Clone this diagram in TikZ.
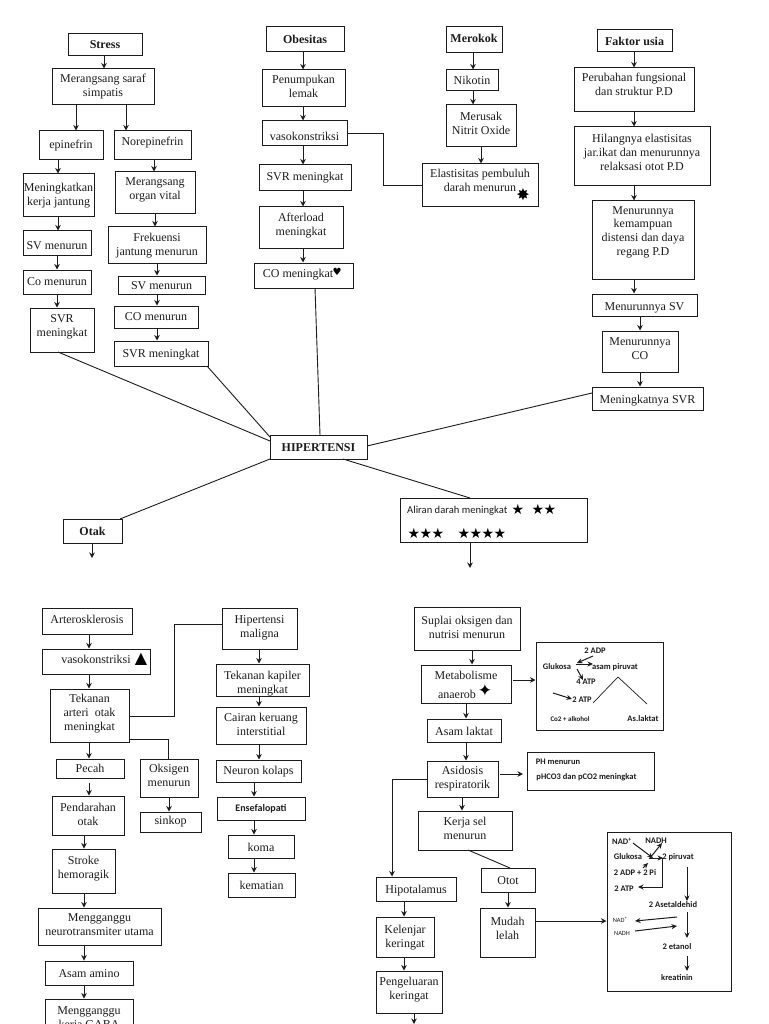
\documentclass[tikz,border=0pt]{standalone}
\usepackage{fontspec}
\setmainfont{Liberation Serif}
\newfontfamily\symf{DejaVu Sans}
\newfontfamily\calf{Carlito}
\usetikzlibrary{arrows.meta,calc}
\definecolor{ink}{HTML}{1C1C1C}
\tikzset{
  bxs/.style={draw=ink,line width=1pt,inner sep=0pt,fill=white,text=ink,align=center},
  arr/.style={draw=ink,line width=1pt,-{Stealth[length=5.5pt,width=5.5pt]}},
  lin/.style={draw=ink,line width=.9pt},
  thin arr/.style={draw=ink,line width=1pt,-{Stealth[length=5.5pt,width=5pt]}},
  tiny/.style={inner sep=0pt,text=ink,font=\calf\bfseries\fontsize{8.5}{9}\selectfont},
  sym/.style={inner sep=0pt,text=black,font=\symf\fontsize{11}{11}\selectfont}
}
% [text offset up]{name}{x1}{y1}{x2}{y2}{text}
\newcommand\bx[6][0]{%
  \pgfmathsetmacro\cx{(#3+#5)/2}\pgfmathsetmacro\cy{(#4+#6)/2}%
  \pgfmathsetmacro\ww{#5-#3}\pgfmathsetmacro\hh{#6-#4}%
  \pgfmathsetmacro\ra{#1-5}%
  \node[bxs,minimum width=\ww pt,minimum height=\hh pt] (#2) at (\cx,\cy)
   {\fontsize{12}{13.8}\selectfont\raisebox{\ra pt}[0pt][0pt]{\begin{tabular}{@{}c@{}}\BOXTXT\end{tabular}}};}
\newcommand\BOXTXT{}
\newcommand\B[7][0]{\renewcommand\BOXTXT{#7}\bx[#1]{#2}{#3}{#4}{#5}{#6}}
\newcommand\ar[4][]{\coordinate (tx) at (#4,0); \draw[arr,#1] (#2.south -| tx) -- (#3.north -| tx);}
\newcounter{fc}
\newcommand\fa[5][thin arr]{\stepcounter{fc}\coordinate (fa\thefc) at (#2,#3); \coordinate (fb\thefc) at (#4,#5); \draw[#1] (fa\thefc) -- (fb\thefc);}
\newcommand\T[4][tiny]{\node[#1] (#2) at (#3) {#4};}
\begin{document}
\begin{tikzpicture}[x=1pt,y=-1pt]
\useasboundingbox (0,0) rectangle (768,1024);
\fill[white] (0,0) rectangle (768,1024);

% ---- top: stress
\B[1]{stress}{68}{34}{142}{56}{\bfseries Stress}
\B[2]{simp}{52}{69}{154}{105}{Merangsang saraf\\simpatis}
\B[2]{epi}{39}{131}{103}{160}{epinefrin}
\B[5]{nor}{114}{131}{191}{160}{Norepinefrin}
\B[2]{kerja}{23}{174}{94}{217}{Meningkatkan\\kerja jantung}
\B[5]{organ}{115}{172}{195}{214}{Merangsang\\organ vital}
\B[-2]{sv1}{23}{231}{91}{255}{SV menurun}
\B[1]{frek}{108}{227}{206}{263}{Frekuensi\\jantung menurun}
\B{sv2}{118}{276}{205}{294}{SV menurun}
\B[1]{co1}{23}{270}{91}{294}{Co menurun}
\B[1]{co2}{114}{306}{198}{328}{CO menurun}
\B[5]{svr1}{30}{308}{94}{352}{SVR\\meningkat}
\B[1]{svr2}{114}{341}{208}{366}{SVR meningkat}
\ar{stress}{simp}{104}
\ar{simp}{epi}{76}
\ar{simp}{nor}{126}
\ar{epi}{kerja}{58}
\ar{nor}{organ}{154}
\ar{kerja}{sv1}{58}
\ar{organ}{frek}{155}
\ar{sv1}{co1}{57}
\ar{frek}{sv2}{157}
\ar{co1}{svr1}{57}
\ar{sv2}{co2}{157}
\ar{co2}{svr2}{157}

% ---- obesitas
\B[1]{obes}{266}{27}{344}{52}{\bfseries Obesitas}
\B[3]{pen}{262}{70}{345}{107}{Penumpukan\\lemak}
\B[-2]{vaso}{262}{121}{347}{146}{vasokonstriksi}
\B[2]{svr3}{259}{165}{351}{191}{SVR meningkat}
\B[4]{after}{259}{207}{343}{248}{Afterload\\meningkat}
\B[3]{coup}{254}{263}{353}{288}{CO meningkat\kern11pt}
\node[sym,font=\symf\fontsize{10}{10}\selectfont] (hrt) at (337,272) {♥};
\ar{obes}{pen}{303}
\ar{pen}{vaso}{303}
\ar{vaso}{svr3}{303}
\ar{svr3}{after}{303}
\ar{after}{coup}{303}

% ---- merokok
\B[2]{mero}{446}{27}{502}{53}{\bfseries Merokok}
\B[1]{niko}{446}{70}{498}{91}{Nikotin}
\B[3]{nitr}{446}{105}{516}{147}{Merusak\\Nitrit Oxide}
\B[6]{elas}{422}{164}{538}{207}{Elastisitas pembuluh\\darah menurun}
\node[sym,font=\symf\fontsize{16}{16}\selectfont] (burst) at (523,195) {✸};
\ar{mero}{niko}{473}
\ar{niko}{nitr}{473}
\ar{nitr}{elas}{481}
\draw[lin] (vaso.east |- 0,133) -- (383,133) -- (383,185) -- (elas.west |- 0,185);

% ---- usia
\B{usia}{597}{30}{672}{52}{\bfseries Faktor usia}
\B[6]{peru}{574}{68}{694}{112}{Perubahan fungsional\\dan struktur P.D}
\B[5]{hila}{574}{127}{710}{186}{Hilangnya elastisitas\\jar.ikat dan menurunnya\\relaksasi otot P.D}
\B[10]{kema}{592}{201}{694}{279}{Menurunnya\\kemampuan\\distensi dan daya\\regang P.D}
\B[-1]{msv}{592}{294}{697}{316}{Menurunnya SV}
\B[4]{mco}{602}{331}{678}{372}{Menurunnya\\CO}
\B{msvr}{592}{387}{703}{410}{Meningkatnya SVR}
\ar{usia}{peru}{634}
\ar{peru}{hila}{634}
\ar{hila}{kema}{634}
\ar{kema}{msv}{634}
\ar{msv}{mco}{640}
\ar{mco}{msvr}{640}

% ---- centre
\B{hip}{270}{435}{367}{459}{\bfseries HIPERTENSI}
\B{otak}{63}{519}{122}{543}{\bfseries Otak}
\node[bxs,minimum width=187pt,minimum height=44pt] (alir) at (493.5,520) {};
\node[inner sep=0pt,anchor=west,text=ink,font=\calf\fontsize{10.6}{12}\selectfont] (alirt) at (407,511) {Aliran darah meningkat};
\foreach \n/\x/\y in {a/518/509,b/538/509,c/550/509,d/414/533,e/426/533,f/438/533,g/464/533,h/476/533,i/488/533,j/500/533}{
  \node[sym,font=\symf\fontsize{14}{14}\selectfont] (st\n) at (\x,\y) {★};}
\coordinate (h1) at (270,441); \coordinate (h2) at (270,437); \coordinate (h3) at (320,435);
\coordinate (h4) at (367,446); \coordinate (h5) at (270,459); \coordinate (h6) at (343,459);
\coordinate (e1) at (58,352); \coordinate (e2) at (207,366); \coordinate (e3) at (315,288);
\coordinate (e4) at (592,393); \coordinate (e5) at (120,519); \coordinate (e6) at (470,498);
\draw[lin] (e1)--(h1); \draw[lin] (e2)--(h2); \draw[lin] (e3)--(h3);
\draw[lin] (e4)--(h4); \draw[lin] (h5)--(e5); \draw[lin] (h6)--(e6);
\coordinate (o1) at (92,558); \draw[arr] (otak.south -| o1) -- (o1);
\coordinate (o2) at (470,568); \draw[arr] (alir.south -| o2) -- (o2);

% ---- lower left
\B[2]{arte}{42}{608}{132}{634}{Arterosklerosis}
\B[3]{vas2}{42}{649}{150}{674}{vasokonstriksi}
\node[sym,font=\symf\fontsize{16}{16}\selectfont] (tri) at (141,659) {▲};
\B[4]{teka}{50}{689}{129}{742}{Tekanan\\arteri\ \ otak\\meningkat}
\B[1]{peca}{56}{759}{124}{778}{Pecah}
\B[3]{oksi}{140}{759}{198}{797}{Oksigen\\menurun}
\B[2]{sink}{140}{812}{201}{832}{sinkop}
\B[2]{pend}{52}{796}{124}{835}{Pendarahan\\otak}
\B[4]{stro}{52}{849}{115}{893}{Stroke\\hemoragik}
\B[3]{neur}{38}{908}{161}{945}{Mengganggu\\neurotransmiter utama}
\B{amin}{45}{961}{133}{985}{Asam amino}
\B[3]{gaba}{45}{999}{133}{1040}{Mengganggu\\kerja GABA}
\ar{arte}{vas2}{89}
\ar{vas2}{teka}{89}
\ar{teka}{peca}{89}
\ar[shorten <=4pt]{peca}{pend}{89}
\ar{pend}{stro}{84}
\ar{stro}{neur}{84}
\ar{neur}{amin}{84}
\ar{amin}{gaba}{84}
\ar{oksi}{sink}{169}

\B[3]{mali}{222}{608}{297}{649}{Hipertensi\\maligna}
\B[-2]{kapi}{216}{664}{309}{696}{Tekanan kapiler\\meningkat}
\B[2]{cair}{216}{707}{306}{744}{Cairan keruang\\interstitial}
\B[1]{kola}{216}{760}{301}{782}{Neuron kolaps}
\node[bxs,minimum width=88pt,minimum height=23pt,font=\calf\bfseries\fontsize{10}{11}\selectfont] (ense) at (261,808.5) {Ensefalopati};
\B{koma}{228}{835}{294}{858}{koma}
\B{kema2}{228}{873}{295}{897}{kematian}
\ar{mali}{kapi}{259}
\ar{kapi}{cair}{259}
\ar{cair}{kola}{259}
\ar{kola}{ense}{254}
\ar{ense}{koma}{254}
\ar{koma}{kema2}{254}
\draw[lin] (teka.east |- 0,716) -- (174,716) -- (174,624) -- (mali.west |- 0,624);
\draw[lin] (teka.east |- 0,739) -- (168,739) -- (168,759);

% ---- lower right
\B[2]{supl}{414}{607}{520}{650}{Suplai oksigen dan\\nutrisi menurun}
\B{meta}{421}{665}{511}{703}{Metabolisme\\[5pt]anaerob\kern18pt}
\node[sym,font=\symf\fontsize{17}{17}\selectfont] (four) at (485,690) {✦};
\B{lakt}{427}{719}{501}{742}{Asam laktat}
\B[2]{asid}{427}{761}{498}{797}{Asidosis\\respiratorik}
\B[3]{kerj}{418}{811}{512}{850}{Kerja sel\\menurun}
\B{hipo}{376}{877}{456}{901}{Hipotalamus}
\B{otot}{481}{868}{535}{892}{Otot}
\B[5]{muda}{480}{908}{535}{957}{Mudah\\lelah}
\B[1]{kele}{376}{917}{434}{957}{Kelenjar\\keringat}
\B[4]{peng}{376}{971}{442}{1013}{Pengeluaran\\keringat}
\ar{supl}{meta}{472}
\ar{meta}{lakt}{466}
\ar{lakt}{asid}{466}
\ar{asid}{kerj}{462}
\ar{otot}{muda}{508}
\ar{hipo}{kele}{404}
\ar{kele}{peng}{404}
\coordinate (pe) at (414,1024); \draw[arr] (peng.south -| pe) -- (pe);
\coordinate (hi) at (392,779); \draw[arr] (asid.west |- hi) -- (hi) -- (hipo.north -| hi);
\coordinate (ka) at (468,850); \coordinate (kb) at (510,868); \draw[lin] (ka) -- (kb);

% mini box 1
\node[bxs,minimum width=127pt,minimum height=88pt] (mb1) at (599.5,686) {};
\coordinate (m1) at (513,680); \draw[arr] (m1) -- (mb1.west |- m1);
\T{t1}{595,651}{2 ADP}\T{t2}{557,667}{Glukosa}\T{t3}{615,667}{asam piruvat}
\T{t4}{586,682}{4 ATP}\T{t5}{582,700}{2 ATP}
\T[tiny,font=\calf\bfseries\fontsize{7}{8}\selectfont]{t6}{570,719}{Co2 + alkohol}
\T{t7}{643,719}{As.laktat}
\fa{593}{656}{577}{663}\fa{576}{664}{593}{664}\fa{577}{669}{583}{680}\fa{553}{693}{572}{699}
\coordinate (pk1) at (593,703); \coordinate (pk2) at (618,677); \coordinate (pk3) at (647,704);
\draw[lin,line width=.7pt] (pk1) -- (pk2) -- (pk3);

% PH box
\node[bxs,minimum width=127pt,minimum height=38pt] (phb) at (590.5,771) {};
\T{p1}{558,762}{PH menurun}\T{p2}{586.5,777}{pHCO3 dan pCO2 meningkat}
\coordinate (m2) at (500,774); \coordinate (m3) at (523,774); \draw[arr] (m2) -- (m3);

% mini box 2
\node[bxs,minimum width=124pt,minimum height=159pt] (mb2) at (669,911.5) {};
\coordinate (m4) at (535,921); \draw[arr] (muda.east |- m4) -- (mb2.west |- m4);
\T{n1}{622,841}{NAD\textsuperscript{+}}\T{n2}{656,841}{NADH}\T{n3}{628,857}{Glukosa}\T{n4}{678,857}{2 piruvat}
\T{n5}{635,873}{2 ADP + 2 Pi}\T{n6}{624,889}{2 ATP}\T{n7}{673,905}{2 Asetaldehid}
\T[tiny,font=\calf\fontsize{6.4}{7}\selectfont]{n8}{620,920}{NAD\textsuperscript{+}}
\T[tiny,font=\calf\fontsize{6.4}{7}\selectfont]{n9}{622,933}{NADH}
\T{n10}{677,947}{2 etanol}\T{n11}{677,978}{kreatinin}
\fa{633}{843}{653}{858}\fa{650}{858}{662}{843}\fa{649}{858}{663}{858}
\coordinate (q1) at (662,858); \coordinate (q2) at (662,887); \coordinate (q3) at (638,887);
\draw[thin arr] (q1) -- (q2) -- (q3);
\fa{643}{868}{648}{863}\fa{687}{867}{687}{901}\fa{677}{917}{635}{921}\fa{635}{931}{677}{926}
\fa{687}{912}{687}{938}\fa{687}{956}{687}{971}
\end{tikzpicture}
\end{document}
